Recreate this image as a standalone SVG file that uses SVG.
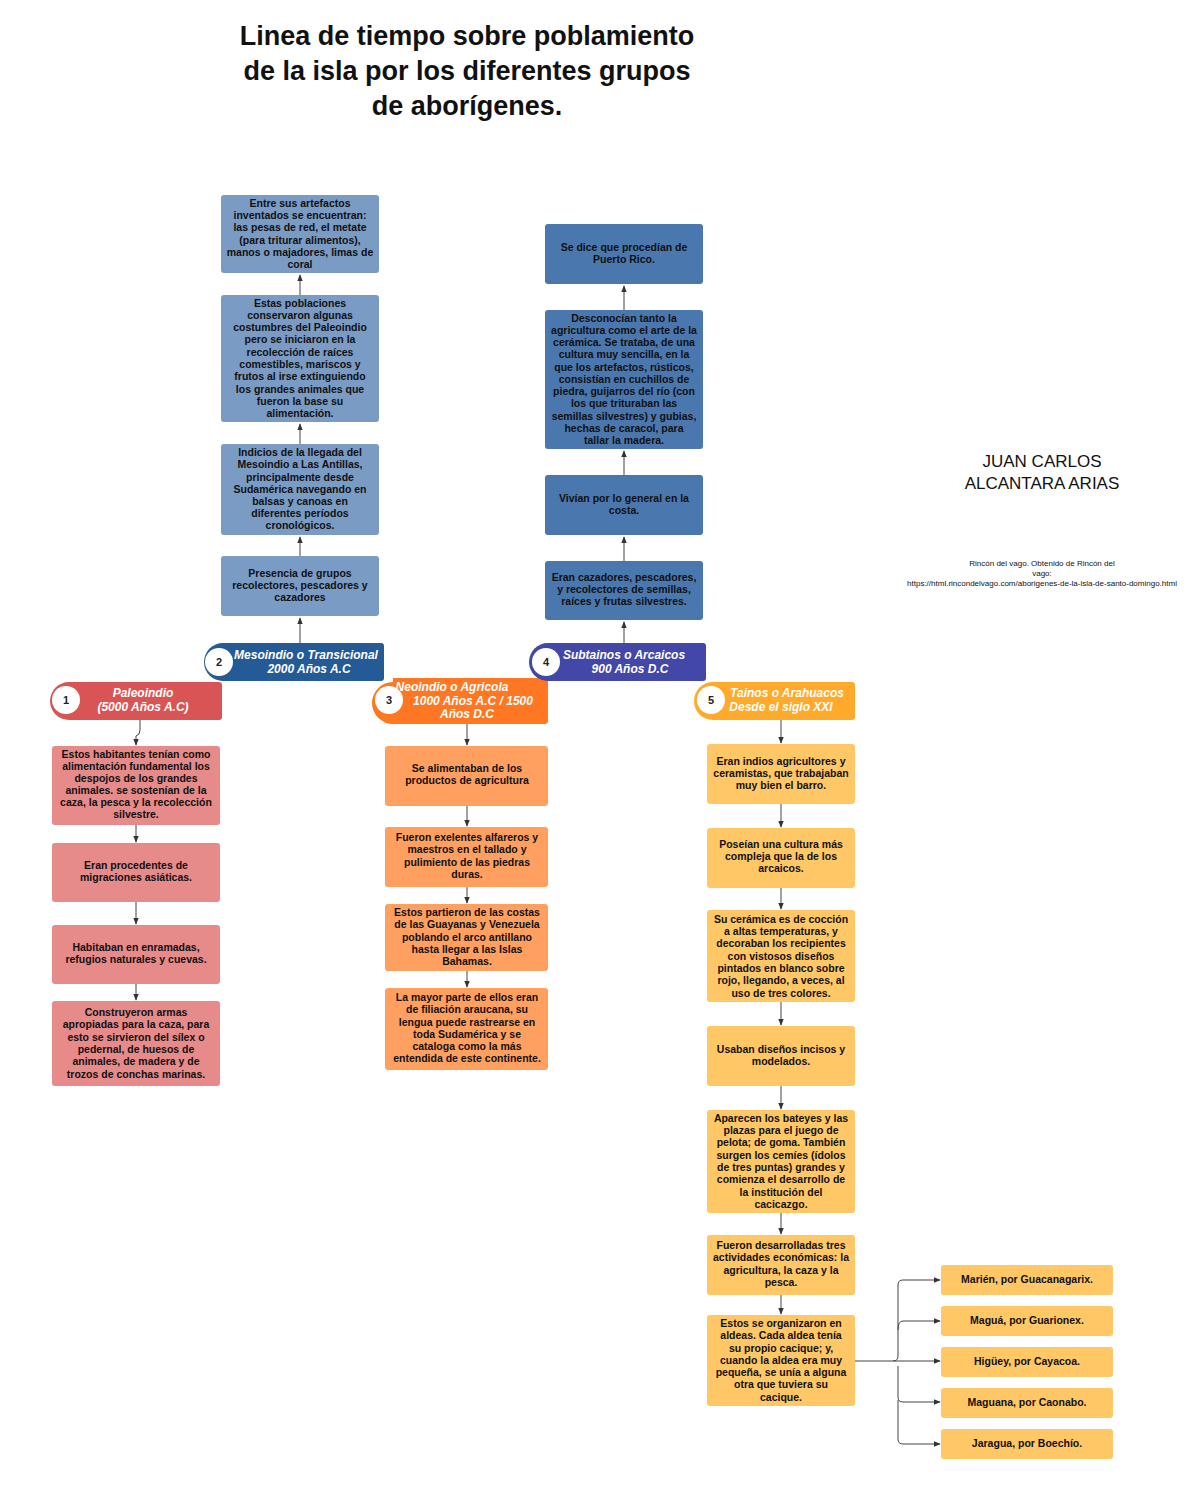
<svg xmlns="http://www.w3.org/2000/svg" width="1200" height="1504" viewBox="0 0 1200 1504">
<style>
text{font-family:"Liberation Sans",Arial,sans-serif}
.t{font-size:10.5px;font-weight:bold;fill:#111;text-anchor:middle}
.h{font-size:12px;font-weight:bold;font-style:italic;fill:#fff;text-anchor:middle}
.n{font-size:11px;font-weight:bold;fill:#222;text-anchor:middle}
.c{stroke:#444;stroke-width:1;fill:none;marker-end:url(#a)}
.red{fill:#E68A8A}.lb{fill:#7A9BC4}.db{fill:#4A77AD}.or{fill:#FFA060}.am{fill:#FFC766}
</style>
<defs><marker id="a" viewBox="0 0 10 10" refX="9" refY="5" markerWidth="7" markerHeight="7" orient="auto"><path d="M0,1 L10,5 L0,9 z" fill="#333"/></marker></defs>
<rect width="1200" height="1504" fill="#fff"/>
<text x="467" y="45" font-size="27" font-weight="bold" text-anchor="middle" fill="#111">Linea de tiempo sobre poblamiento</text>
<text x="467" y="80" font-size="27" font-weight="bold" text-anchor="middle" fill="#111">de la isla por los diferentes grupos</text>
<text x="467" y="115" font-size="27" font-weight="bold" text-anchor="middle" fill="#111">de aborígenes.</text>
<text x="1042" y="467" font-size="17" text-anchor="middle" fill="#111">JUAN CARLOS</text>
<text x="1042" y="489" font-size="17" text-anchor="middle" fill="#111">ALCANTARA ARIAS</text>
<g font-size="8" fill="#111" text-anchor="middle"><text x="1042" y="566">Rincón del vago. Obtenido de Rincón del</text><text x="1042" y="576">vago:</text><text x="1042" y="586">https://html.rincondelvago.com/aborigenes-de-la-isla-de-santo-domingo.html</text></g>

<g id="connectors">
<path class="c" d="M300 643 V618"/><path class="c" d="M300 556 V537"/><path class="c" d="M300 444 V424"/><path class="c" d="M300 295 V275"/>
<path class="c" d="M624 643 V622"/><path class="c" d="M624 561 V537"/><path class="c" d="M624 475 V451"/><path class="c" d="M624 310 V286"/>
<path class="c" d="M140 720 V730 Q140 735 136 736 V745"/><path class="c" d="M136 825 V842"/><path class="c" d="M136 902 V924"/><path class="c" d="M136 984 V1000"/>
<path class="c" d="M467 724 V745"/><path class="c" d="M467 806 V826"/><path class="c" d="M467 887 V903"/><path class="c" d="M467 971 V987"/>
<path class="c" d="M781 720 V743"/><path class="c" d="M781 804 V827"/><path class="c" d="M781 888 V909"/><path class="c" d="M781 1002 V1025"/><path class="c" d="M781 1086 V1109"/><path class="c" d="M781 1213 V1234"/><path class="c" d="M781 1295 V1314"/>
<path d="M855 1361 H893" stroke="#444" fill="none"/>
<path class="c" d="M893 1361 Q898 1361 898 1356 V1285 Q898 1280 903 1280 H940"/>
<path class="c" d="M898 1330 Q898 1321 903 1321 H940"/>
<path class="c" d="M893 1361 H940"/>
<path class="c" d="M898 1366 V1397 Q898 1402 903 1402 H940"/>
<path class="c" d="M898 1400 V1439 Q898 1444 903 1444 H940"/>
</g>

<g id="h1"><path d="M69 682 H219 a3 3 0 0 1 3 3 V717 a3 3 0 0 1 -3 3 H69 a19 19 0 0 1 0 -38z" fill="#D95555"/><circle cx="66" cy="700" r="14" fill="#fff"/><text class="n" x="66" y="704">1</text><text class="h" x="143" y="697">Paleoindio</text><text class="h" x="143" y="711">(5000 Años A.C)</text></g>
<g id="h2"><path d="M223 643 H381 a3 3 0 0 1 3 3 V678 a3 3 0 0 1 -3 3 H223 a19 19 0 0 1 0 -38z" fill="#245A96"/><circle cx="219" cy="662" r="14" fill="#fff"/><text class="n" x="219" y="666">2</text><text class="h" x="306" y="659">Mesoindio o Transicional</text><text class="h" x="309" y="673">2000 Años A.C</text></g>
<g id="h3"><path d="M393 678 H545 a3 3 0 0 1 3 3 V721 a3 3 0 0 1 -3 3 H393 a21 21 0 0 1 0 -42z" fill="#FF7722"/><circle cx="389" cy="700" r="14" fill="#fff"/><text class="n" x="389" y="704">3</text><text class="h" x="452" y="691">Neoindio o Agricola</text><text class="h" x="473" y="705">1000 Años A.C / 1500</text><text class="h" x="467" y="718">Años D.C</text></g>
<g id="h4"><path d="M548 643 H703 a3 3 0 0 1 3 3 V678 a3 3 0 0 1 -3 3 H548 a19 19 0 0 1 0 -38z" fill="#4347A8"/><circle cx="546" cy="662" r="14" fill="#fff"/><text class="n" x="546" y="666">4</text><text class="h" x="624" y="659">Subtainos o Arcaicos</text><text class="h" x="630" y="673">900 Años D.C</text></g>
<g id="h5"><path d="M713 682 H852 a3 3 0 0 1 3 3 V717 a3 3 0 0 1 -3 3 H713 a19 19 0 0 1 0 -38z" fill="#FFAA2A"/><circle cx="711" cy="700" r="14" fill="#fff"/><text class="n" x="711" y="704">5</text><text class="h" x="787" y="697">Tainos o Arahuacos</text><text class="h" x="781" y="711">Desde el siglo XXI</text></g>

<g id="r1"><rect class="red" x="52" y="746" width="168" height="79" rx="3"/><text class="t" x="136"><tspan x="136" y="758">Estos habitantes tenían como</tspan><tspan x="136" y="770">alimentación fundamental los</tspan><tspan x="136" y="782">despojos de los grandes</tspan><tspan x="136" y="794">animales. se sostenían de la</tspan><tspan x="136" y="806">caza, la pesca y la recolección</tspan><tspan x="136" y="818">silvestre.</tspan></text></g>
<g id="r2"><rect class="red" x="52" y="843" width="168" height="59" rx="3"/><text class="t"><tspan x="136" y="869">Eran procedentes de</tspan><tspan x="136" y="881">migraciones asiáticas.</tspan></text></g>
<g id="r3"><rect class="red" x="52" y="925" width="168" height="59" rx="3"/><text class="t"><tspan x="136" y="951">Habitaban en enramadas,</tspan><tspan x="136" y="963">refugios naturales y cuevas.</tspan></text></g>
<g id="r4"><rect class="red" x="52" y="1001" width="168" height="85" rx="3"/><text class="t"><tspan x="136" y="1016">Construyeron armas</tspan><tspan x="136" y="1028">apropiadas para la caza, para</tspan><tspan x="136" y="1041">esto se sirvieron del sílex o</tspan><tspan x="136" y="1053">pedernal, de huesos de</tspan><tspan x="136" y="1065">animales, de madera y de</tspan><tspan x="136" y="1078">trozos de conchas marinas.</tspan></text></g>

<g id="m1"><rect class="lb" x="221" y="556" width="158" height="60" rx="3"/><text class="t"><tspan x="300" y="577">Presencia de grupos</tspan><tspan x="300" y="589">recolectores, pescadores y</tspan><tspan x="300" y="601">cazadores</tspan></text></g>
<g id="m2"><rect class="lb" x="221" y="444" width="158" height="91" rx="3"/><text class="t"><tspan x="300" y="456">Indicios de la llegada del</tspan><tspan x="300" y="468">Mesoindio a Las Antillas,</tspan><tspan x="300" y="481">principalmente desde</tspan><tspan x="300" y="493">Sudamérica navegando en</tspan><tspan x="300" y="505">balsas y canoas en</tspan><tspan x="300" y="517">diferentes períodos</tspan><tspan x="300" y="529">cronológicos.</tspan></text></g>
<g id="m3"><rect class="lb" x="221" y="295" width="158" height="127" rx="3"/><text class="t"><tspan x="300" y="307">Estas poblaciones</tspan><tspan x="300" y="319">conservaron algunas</tspan><tspan x="300" y="331">costumbres del Paleoindio</tspan><tspan x="300" y="343">pero se iniciaron en la</tspan><tspan x="300" y="356">recolección de raíces</tspan><tspan x="300" y="368">comestibles, mariscos y</tspan><tspan x="300" y="380">frutos al irse extinguiendo</tspan><tspan x="300" y="393">los grandes animales que</tspan><tspan x="300" y="405">fueron la base su</tspan><tspan x="300" y="417">alimentación.</tspan></text></g>
<g id="m4"><rect class="lb" x="221" y="195" width="158" height="78" rx="3"/><text class="t"><tspan x="300" y="207">Entre sus artefactos</tspan><tspan x="300" y="219">inventados se encuentran:</tspan><tspan x="300" y="231">las pesas de red, el metate</tspan><tspan x="300" y="244">(para triturar alimentos),</tspan><tspan x="300" y="256">manos o majadores, limas de</tspan><tspan x="300" y="268">coral</tspan></text></g>

<g id="s1"><rect class="db" x="545" y="561" width="158" height="59" rx="3"/><text class="t"><tspan x="624" y="581">Eran cazadores, pescadores,</tspan><tspan x="624" y="593">y recolectores de semillas,</tspan><tspan x="624" y="605">raíces y frutas silvestres.</tspan></text></g>
<g id="s2"><rect class="db" x="545" y="475" width="158" height="60" rx="3"/><text class="t"><tspan x="624" y="502">Vivían por lo general en la</tspan><tspan x="624" y="514">costa.</tspan></text></g>
<g id="s3"><rect class="db" x="545" y="310" width="158" height="139" rx="3"/><text class="t"><tspan x="624" y="322">Desconocían tanto la</tspan><tspan x="624" y="334">agricultura como el arte de la</tspan><tspan x="624" y="346">cerámica. Se trataba, de una</tspan><tspan x="624" y="358">cultura muy sencilla, en la</tspan><tspan x="624" y="371">que los artefactos, rústicos,</tspan><tspan x="624" y="383">consistían en cuchillos de</tspan><tspan x="624" y="395">piedra, guijarros del río (con</tspan><tspan x="624" y="407">los que trituraban las</tspan><tspan x="624" y="420">semillas silvestres) y gubias,</tspan><tspan x="624" y="432">hechas de caracol, para</tspan><tspan x="624" y="444">tallar la madera.</tspan></text></g>
<g id="s4"><rect class="db" x="545" y="224" width="158" height="60" rx="3"/><text class="t"><tspan x="624" y="251">Se dice que procedían de</tspan><tspan x="624" y="263">Puerto Rico.</tspan></text></g>

<g id="o1"><rect class="or" x="385" y="746" width="163" height="60" rx="3"/><text class="t"><tspan x="467" y="772">Se alimentaban de los</tspan><tspan x="467" y="784">productos de agricultura</tspan></text></g>
<g id="o2"><rect class="or" x="385" y="827" width="163" height="60" rx="3"/><text class="t"><tspan x="467" y="841">Fueron exelentes alfareros y</tspan><tspan x="467" y="853">maestros en el tallado y</tspan><tspan x="467" y="866">pulimiento de las piedras</tspan><tspan x="467" y="878">duras.</tspan></text></g>
<g id="o3"><rect class="or" x="385" y="904" width="163" height="67" rx="3"/><text class="t"><tspan x="467" y="916">Estos partieron de las costas</tspan><tspan x="467" y="928">de las Guayanas y Venezuela</tspan><tspan x="467" y="941">poblando el arco antillano</tspan><tspan x="467" y="953">hasta llegar a las Islas</tspan><tspan x="467" y="965">Bahamas.</tspan></text></g>
<g id="o4"><rect class="or" x="385" y="988" width="163" height="82" rx="3"/><text class="t"><tspan x="467" y="1001">La mayor parte de ellos eran</tspan><tspan x="467" y="1013">de filiación araucana, su</tspan><tspan x="467" y="1026">lengua puede rastrearse en</tspan><tspan x="467" y="1038">toda Sudamérica y se</tspan><tspan x="467" y="1050">cataloga como la más</tspan><tspan x="467" y="1062">entendida de este continente.</tspan></text></g>

<g id="t1"><rect class="am" x="707" y="744" width="148" height="60" rx="3"/><text class="t"><tspan x="781" y="765">Eran indios agricultores y</tspan><tspan x="781" y="777">ceramistas, que trabajaban</tspan><tspan x="781" y="789">muy bien el barro.</tspan></text></g>
<g id="t2"><rect class="am" x="707" y="828" width="148" height="60" rx="3"/><text class="t"><tspan x="781" y="848">Poseían una cultura más</tspan><tspan x="781" y="860">compleja que la de los</tspan><tspan x="781" y="872">arcaicos.</tspan></text></g>
<g id="t3"><rect class="am" x="707" y="910" width="148" height="92" rx="3"/><text class="t"><tspan x="781" y="923">Su cerámica es de cocción</tspan><tspan x="781" y="935">a altas temperaturas, y</tspan><tspan x="781" y="947">decoraban los recipientes</tspan><tspan x="781" y="960">con vistosos diseños</tspan><tspan x="781" y="972">pintados en blanco sobre</tspan><tspan x="781" y="984">rojo, llegando, a veces, al</tspan><tspan x="781" y="997">uso de tres colores.</tspan></text></g>
<g id="t4"><rect class="am" x="707" y="1026" width="148" height="60" rx="3"/><text class="t"><tspan x="781" y="1053">Usaban diseños incisos y</tspan><tspan x="781" y="1065">modelados.</tspan></text></g>
<g id="t5"><rect class="am" x="707" y="1110" width="148" height="103" rx="3"/><text class="t"><tspan x="781" y="1122">Aparecen los bateyes y las</tspan><tspan x="781" y="1134">plazas para el juego de</tspan><tspan x="781" y="1146">pelota; de goma. También</tspan><tspan x="781" y="1159">surgen los cemíes (ídolos</tspan><tspan x="781" y="1171">de tres puntas) grandes y</tspan><tspan x="781" y="1183">comienza el desarrollo de</tspan><tspan x="781" y="1196">la institución del</tspan><tspan x="781" y="1208">cacicazgo.</tspan></text></g>
<g id="t6"><rect class="am" x="707" y="1235" width="148" height="60" rx="3"/><text class="t"><tspan x="781" y="1249">Fueron desarrolladas tres</tspan><tspan x="781" y="1261">actividades económicas: la</tspan><tspan x="781" y="1274">agricultura, la caza y la</tspan><tspan x="781" y="1286">pesca.</tspan></text></g>
<g id="t7"><rect class="am" x="707" y="1315" width="148" height="91" rx="3"/><text class="t"><tspan x="781" y="1327">Estos se organizaron en</tspan><tspan x="781" y="1339">aldeas. Cada aldea tenía</tspan><tspan x="781" y="1352">su propio cacique; y,</tspan><tspan x="781" y="1364">cuando la aldea era muy</tspan><tspan x="781" y="1376">pequeña, se unía a alguna</tspan><tspan x="781" y="1388">otra que tuviera su</tspan><tspan x="781" y="1401">cacique.</tspan></text></g>
<g id="c1"><rect class="am" x="941" y="1265" width="172" height="30" rx="3"/><text class="t" x="1027" y="1283">Marién, por Guacanagarix.</text></g>
<g id="c2"><rect class="am" x="941" y="1306" width="172" height="30" rx="3"/><text class="t" x="1027" y="1324">Maguá, por Guarionex.</text></g>
<g id="c3"><rect class="am" x="941" y="1347" width="172" height="30" rx="3"/><text class="t" x="1027" y="1365">Higüey, por Cayacoa.</text></g>
<g id="c4"><rect class="am" x="941" y="1388" width="172" height="30" rx="3"/><text class="t" x="1027" y="1406">Maguana, por Caonabo.</text></g>
<g id="c5"><rect class="am" x="941" y="1429" width="172" height="30" rx="3"/><text class="t" x="1027" y="1447">Jaragua, por Boechío.</text></g>
</svg>
